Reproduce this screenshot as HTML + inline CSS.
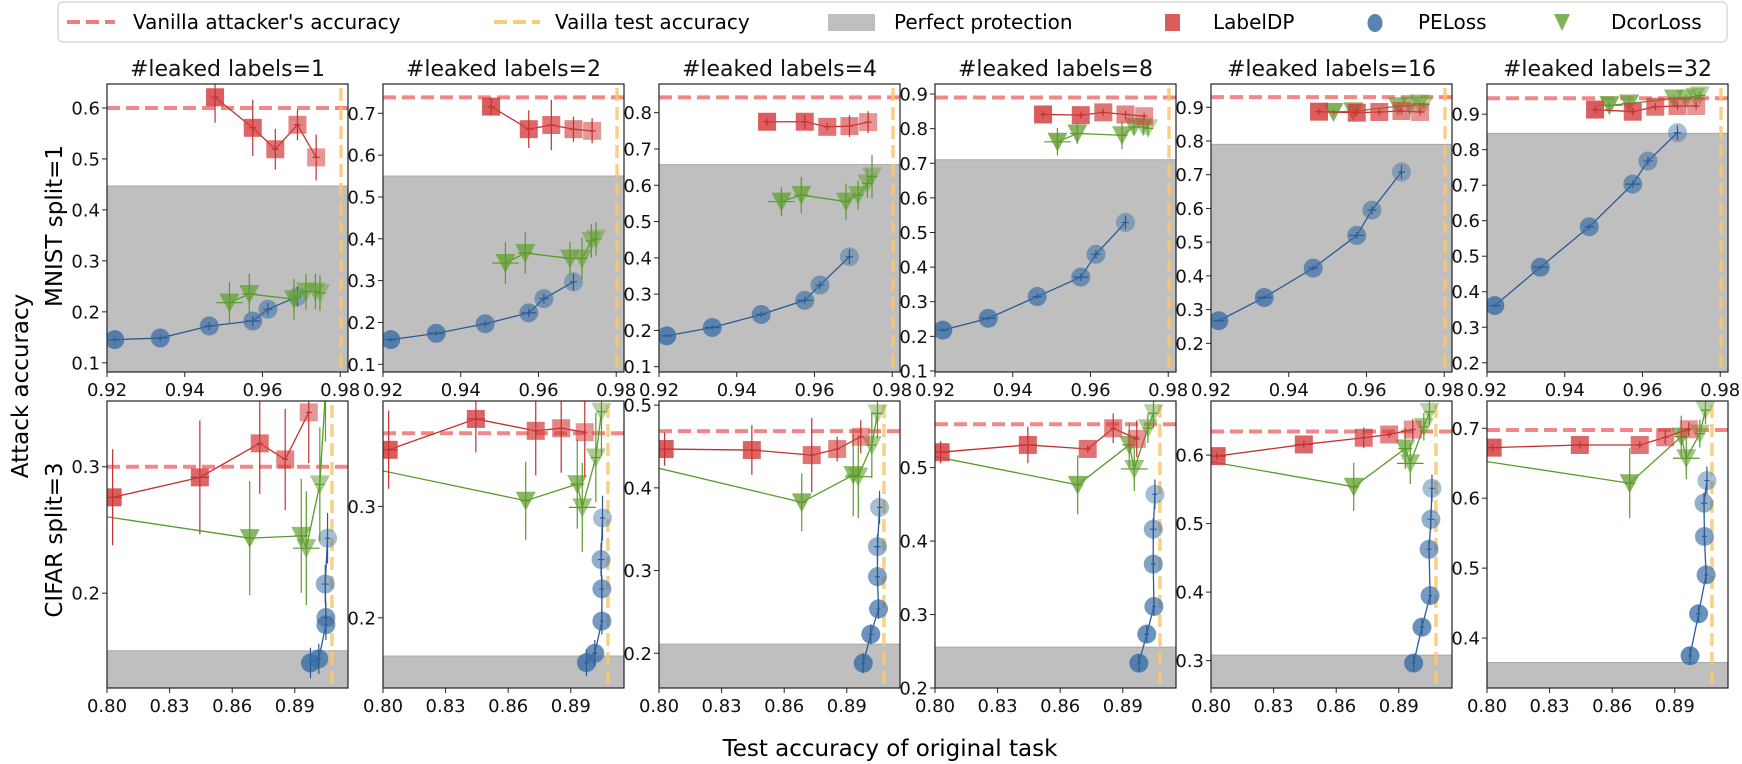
<!DOCTYPE html>
<html><head><meta charset="utf-8">
<style>
html,body{margin:0;padding:0;background:#fff;}
svg{display:block;font-family:"DejaVu Sans","Liberation Sans",sans-serif;}
</style></head>
<body>
<svg id="fig" width="1742" height="764" viewBox="0 0 1742 764" xmlns="http://www.w3.org/2000/svg">
  <g>
    <rect x="58" y="2" width="1669" height="40" rx="5" fill="#fff" stroke="#d0d0d0" stroke-width="1.2"/>
    <line x1="67" y1="22" x2="115" y2="22" stroke="#f07c7c" stroke-width="4" stroke-dasharray="13,6"/>
    <text x="133" y="29" font-size="20">Vanilla attacker's accuracy</text>
    <line x1="494" y1="22" x2="540" y2="22" stroke="#f9cd78" stroke-width="4" stroke-dasharray="13,6"/>
    <text x="555" y="29" font-size="20">Vailla test accuracy</text>
    <rect x="828" y="14" width="47" height="17" fill="#bfbfbf"/>
    <text x="894" y="29" font-size="20">Perfect protection</text>
    <rect x="1165" y="14" width="15" height="17" fill="#d43f3f" opacity="0.85"/>
    <text x="1213" y="29" font-size="20">LabelDP</text>
    <ellipse cx="1375" cy="23" rx="7.5" ry="9" fill="#3a6ea5" opacity="0.85"/>
    <text x="1418" y="29" font-size="20">PELoss</text>
    <polygon points="1554,14 1570,14 1562,31" fill="#6aa43a" opacity="0.85"/>
    <text x="1611" y="29" font-size="20">DcorLoss</text>
  </g>
  <text x="0" y="0" font-size="23" text-anchor="middle" transform="translate(28,386) rotate(-90)">Attack accuracy</text>
  <text x="0" y="0" font-size="23" text-anchor="middle" transform="translate(62,226) rotate(-90)">MNIST split=1</text>
  <text x="0" y="0" font-size="23" text-anchor="middle" transform="translate(62,540) rotate(-90)">CIFAR split=3</text>
  <text x="890" y="756" font-size="23" text-anchor="middle">Test accuracy of original task</text>
  <g id="panels"></g>
</svg>
<script>
// ---- data ----
const leakedLabels = [1, 2, 4, 8, 16, 32];
const topXLim = [0.92, 0.982];
const botXLim = [0.80, 0.9155];
const topXTicks = [0.92, 0.94, 0.96, 0.98];
const botXTicks = [0.80, 0.83, 0.86, 0.89];
const topYLim = [[0.082,0.647],[0.0816,0.770],[0.0854,0.879],[0.097,0.929],[0.115,0.969],[0.174,0.985]];
const botYLim = [[0.125,0.352],[0.137,0.3946],[0.158,0.505],[0.2,0.5907],[0.26,0.679],[0.3286,0.739]];
const topYTicks = [[0.1,0.2,0.3,0.4,0.5,0.6],[0.1,0.2,0.3,0.4,0.5,0.6,0.7],[0.1,0.2,0.3,0.4,0.5,0.6,0.7,0.8],[0.1,0.2,0.3,0.4,0.5,0.6,0.7,0.8,0.9],[0.2,0.3,0.4,0.5,0.6,0.7,0.8,0.9],[0.2,0.3,0.4,0.5,0.6,0.7,0.8,0.9]];
const botYTicks = [[0.2,0.3],[0.2,0.3],[0.2,0.3,0.4,0.5],[0.2,0.3,0.4,0.5],[0.3,0.4,0.5,0.6],[0.4,0.5,0.6,0.7]];
const topVanillaAttack = [0.60, 0.738, 0.842, 0.89, 0.93, 0.945];
const botVanillaAttack = [0.300, 0.3657, 0.4686, 0.559, 0.6345, 0.6976];
const topPerfect = [0.447, 0.55, 0.657, 0.71, 0.79, 0.846];
const botPerfect = [0.1545, 0.1657, 0.211, 0.2557, 0.308, 0.365];
const topVanillaTest = 0.9802;
const botVanillaTest = 0.9078;

const topPeX = [0.922, 0.9337, 0.9463, 0.9575, 0.9614, 0.969];
const topPeY = [[0.1455,0.1486,0.1722,0.182,0.205,0.230],[0.159,0.174,0.197,0.223,0.257,0.297],[0.185,0.208,0.244,0.283,0.325,0.403],[0.218,0.252,0.315,0.371,0.437,0.529],[0.267,0.336,0.423,0.520,0.595,0.708],[0.361,0.469,0.583,0.703,0.768,0.848]];
const topPeXErr = [0.001, 0.0015, 0.0008, 0.0015, 0.0008, 0.0005];
const topPeYErr = [0.005, 0.006, 0.008, 0.01, 0.012, 0.02];

const topDpX = [0.9478, 0.9575, 0.9633, 0.969, 0.9738];
const topDpY = [[0.621,0.561,0.519,0.567,0.503],[0.716,0.662,0.672,0.662,0.658],[0.775,0.775,0.761,0.763,0.774],[0.841,0.839,0.847,0.841,0.836],[0.887,0.884,0.886,0.889,0.886],[0.913,0.907,0.921,0.923,0.923]];
const topDpYErr = [[0.05,0.055,0.04,0.03,0.045],[0.02,0.045,0.06,0.03,0.03],[0.01,0.02,0.01,0.03,0.03],[0.01,0.01,0.01,0.01,0.01],[0.01,0.01,0.01,0.01,0.01],[0.01,0.01,0.01,0.01,0.01]];

const topDcX = [0.9515, 0.9566, 0.9681, 0.9712, 0.9736, 0.9748];
const topDcY = [[0.218,0.235,0.225,0.24,0.24,0.237],[0.342,0.366,0.353,0.353,0.395,0.40],[0.555,0.573,0.555,0.573,0.605,0.624],[0.762,0.786,0.781,0.805,0.805,0.801],[0.886,0.888,0.903,0.905,0.911,0.908],[0.925,0.93,0.944,0.944,0.949,0.953]];
const topDcYErr = [[0.04,0.04,0.04,0.035,0.035,0.035],[0.05,0.05,0.04,0.05,0.04,0.04],[0.04,0.05,0.05,0.04,0.04,0.06],[0.04,0.03,0.04,0.02,0.02,0.02],[0.01,0.01,0.01,0.01,0.01,0.01],[0.01,0.01,0.01,0.01,0.01,0.01]];
const topDcXErr = [0.003, 0.0015, 0.001, 0.001, 0.001, 0.001];

const botPeX = [[0.8975,0.9015,0.9049,0.9049,0.9046,0.9057],[0.8975,0.9015,0.9049,0.9049,0.9045,0.9052],[0.8979,0.9015,0.9052,0.9047,0.9047,0.9057],[0.8977,0.9015,0.9049,0.9046,0.9046,0.9054],[0.8971,0.9011,0.905,0.9045,0.9054,0.9059],[0.8973,0.9014,0.905,0.9042,0.904,0.9054]];
const botPeY = [[0.1448,0.148,0.175,0.1808,0.2072,0.2435],[0.1598,0.1681,0.197,0.226,0.2523,0.2896],[0.188,0.223,0.2536,0.2926,0.3289,0.3764],[0.2339,0.2733,0.3109,0.3686,0.4162,0.4638],[0.2963,0.3488,0.3949,0.4625,0.5063,0.5515],[0.3747,0.4347,0.4904,0.5452,0.5929,0.6252]];
const botPeYErr = [0.012, 0.012, 0.012, 0.012, 0.015, 0.02];
const botPeXErr = [0.0005, 0.0008, 0.0005, 0.0008, 0.0012, 0.0008];

const botDpX = [0.8027, 0.8445, 0.8732, 0.8854, 0.8967];
const botDpY = [[0.2758,0.2916,0.3185,0.3058,0.343],[0.3508,0.3785,0.3678,0.3702,0.3666],[0.4469,0.4457,0.4396,0.4469,0.4617],[0.521,0.5309,0.5254,0.5536,0.5391],[0.5985,0.6156,0.6253,0.6301,0.6374],[0.6723,0.6761,0.6761,0.6871,0.6986]];
const botDpYErr = [[0.038,0.045,0.04,0.04,0.04],[0.035,0.03,0.04,0.04,0.04],[0.02,0.03,0.045,0.015,0.02],[0.015,0.025,0.005,0.02,0.025],[0.005,0.005,0.015,0.005,0.015],[0.005,0.005,0.005,0.01,0.01]];
const botDpXErr = [0.004, 0.004, 0.001, 0.001, 0.001];

const botDcX = [0.78, 0.8684, 0.8931, 0.8955, 0.902, 0.9047];
const botDcY = [[0.2653,0.2435,0.2453,0.2356,0.2861,0.36],[0.3397,0.3051,0.32,0.2991,0.3439,0.385],[0.4356,0.3825,0.4155,0.4135,0.4517,0.49],[0.5264,0.4765,0.5309,0.4982,0.5536,0.574],[0.601,0.5538,0.6097,0.5879,0.6413,0.6631],[0.6614,0.6214,0.688,0.6571,0.6923,0.726]];
const botDcYErr = [[0.03,0.045,0.045,0.045,0.045,0.04],[0.03,0.035,0.04,0.04,0.04,0.04],[0.03,0.035,0.05,0.05,0.04,0.03],[0.02,0.04,0.03,0.03,0.02,0.02],[0.02,0.035,0.03,0.03,0.02,0.02],[0.02,0.05,0.03,0.03,0.02,0.02]];
const botDcXErr = [0, 0.002, 0.003, 0.006, 0.002, 0.002];

// ---- rendering ----
const NS = "http://www.w3.org/2000/svg";
const root = document.getElementById('panels');
const PANEL_W = 241, PITCH = 276, LEFT0 = 107;
const ROWS = [{top: 84, h: 288}, {top: 401, h: 287}];
const RED = "#d43f3f", REDL = "#c42f2f";
const BLUE = "#3a6ea5", BLUEL = "#2a5b95";
const GREEN = "#6aa43a", GREENL = "#5a9a2a";
const alphaPe = [0.8, 0.75, 0.7, 0.64, 0.55, 0.45];
const alphaDp = [0.85, 0.8, 0.72, 0.64, 0.55];
const alphaDc = [0.85, 0.8, 0.74, 0.66, 0.56, 0.48];

function mk(tag, attrs, parent) {
  const e = document.createElementNS(NS, tag);
  for (const k in attrs) e.setAttribute(k, attrs[k]);
  if (parent) parent.appendChild(e);
  return e;
}
function fmt(v, d) { return v.toFixed(d); }

function drawSeries(g, xs, ys, xerr, yerr, sx, sy, color, lcolor, kind, alphas, name) {
  const sg = mk('g', {}, g);
  
  
  let d = '';
  for (let i = 0; i < xs.length; i++) d += (i ? 'L' : 'M') + sx(xs[i]) + ',' + sy(ys[i]);
  const ln = mk('path', {d: d, fill: 'none', stroke: lcolor, 'stroke-width': 1.3}, sg);
  
  
  for (let i = 0; i < xs.length; i++) {
    const cx = sx(xs[i]), cy = sy(ys[i]);
    let m;
    if (kind === 'square') {
      m = mk('rect', {x: cx - 9, y: cy - 9, width: 18, height: 18, fill: color, opacity: alphas[i]}, sg);
    } else if (kind === 'circle') {
      m = mk('circle', {cx: cx, cy: cy, r: 9.5, fill: color, opacity: alphas[i]}, sg);
    } else {
      m = mk('polygon', {points: (cx - 10) + ',' + (cy - 9) + ' ' + (cx + 10) + ',' + (cy - 9) + ' ' + cx + ',' + (cy + 10), fill: color, opacity: alphas[i]}, sg);
    }
    
    
    const ye = Array.isArray(yerr) ? yerr[i] : yerr;
    const xe = Array.isArray(xerr) ? xerr[i] : xerr;
    const eb = mk('path', {d: 'M' + cx + ',' + sy(ys[i] - ye) + 'L' + cx + ',' + sy(ys[i] + ye) +
      'M' + sx(xs[i] - xe - 0.0004) + ',' + cy + 'L' + sx(xs[i] + xe + 0.0004) + ',' + cy,
      stroke: lcolor, 'stroke-width': 1.2, fill: 'none'}, sg);
    
    
  }
}

function drawPanel(r, c) {
  const left = LEFT0 + c * PITCH, top = ROWS[r].top, h = ROWS[r].h, w = PANEL_W;
  const xl = r === 0 ? topXLim : botXLim;
  const yl = r === 0 ? topYLim[c] : botYLim[c];
  const sx = v => left + (v - xl[0]) / (xl[1] - xl[0]) * w;
  const sy = v => top + h - (v - yl[0]) / (yl[1] - yl[0]) * h;
  const g = mk('g', {}, root);
  
  
  const cid = 'clip' + r + '_' + c;
  const cp = mk('clipPath', {id: cid}, g);
  mk('rect', {x: left, y: top, width: w, height: h}, cp);
  const inner = mk('g', {'clip-path': 'url(#' + cid + ')'}, g);

  const pt = r === 0 ? topPerfect[c] : botPerfect[c];
  const gr = mk('rect', {x: left, y: sy(pt), width: w, height: top + h - sy(pt), fill: '#bfbfbf'}, inner);
  
  
  mk('line', {x1: left, x2: left + w, y1: sy(pt), y2: sy(pt), stroke: '#a8a8a8', 'stroke-width': 1}, inner);

  const va = r === 0 ? topVanillaAttack[c] : botVanillaAttack[c];
  const hl = mk('line', {x1: left, x2: left + w, y1: sy(va), y2: sy(va), stroke: '#f07c7c', 'stroke-width': 4, 'stroke-dasharray': '13,6', opacity: 0.9}, inner);
  
  
  const vt = r === 0 ? topVanillaTest : botVanillaTest;
  const vl = mk('line', {x1: sx(vt), x2: sx(vt), y1: top + 4, y2: top + h, stroke: '#f9c870', 'stroke-width': 3.5, 'stroke-dasharray': '13,6', opacity: 0.85}, inner);
  
  

  if (r === 0) {
    drawSeries(inner, topPeX, topPeY[c], topPeXErr, topPeYErr, sx, sy, BLUE, BLUEL, 'circle', alphaPe, 'peloss');
    drawSeries(inner, topDcX, topDcY[c], topDcXErr, topDcYErr[c], sx, sy, GREEN, GREENL, 'tri', alphaDc, 'dcorloss');
    drawSeries(inner, topDpX, topDpY[c], 0.0005, topDpYErr[c], sx, sy, RED, REDL, 'square', alphaDp, 'labeldp');
  } else {
    drawSeries(inner, botPeX[c], botPeY[c], botPeXErr, botPeYErr, sx, sy, BLUE, BLUEL, 'circle', alphaPe, 'peloss');
    drawSeries(inner, botDcX, botDcY[c], botDcXErr, botDcYErr[c], sx, sy, GREEN, GREENL, 'tri', alphaDc, 'dcorloss');
    drawSeries(inner, botDpX, botDpY[c], botDpXErr, botDpYErr[c], sx, sy, RED, REDL, 'square', alphaDp, 'labeldp');
  }

  const fr = mk('rect', {x: left, y: top, width: w, height: h, fill: 'none', stroke: '#222', 'stroke-width': 1.2}, g);
  
  

  const yt = r === 0 ? topYTicks[c] : botYTicks[c];
  yt.forEach(v => {
    const y = sy(v);
    mk('line', {x1: left - 5, x2: left, y1: y, y2: y, stroke: '#222', 'stroke-width': 1}, g);
    const t = mk('text', {x: left - 7, y: y + 6.5, 'font-size': 18, 'text-anchor': 'end', fill: '#111'}, g);
    t.textContent = fmt(v, 1);
    
    
  });
  const xt = r === 0 ? topXTicks : botXTicks;
  xt.forEach(v => {
    const x = sx(v);
    mk('line', {x1: x, x2: x, y1: top + h, y2: top + h + 5, stroke: '#222', 'stroke-width': 1}, g);
    const t = mk('text', {x: x, y: top + h + 24, 'font-size': 18, 'text-anchor': 'middle', fill: '#111'}, g);
    t.textContent = fmt(v, 2);
    
    
  });
  if (r === 0) {
    const tt = mk('text', {x: left + w / 2, y: top - 8, 'font-size': 22, 'text-anchor': 'middle', fill: '#111'}, g);
    tt.textContent = '#leaked labels=' + leakedLabels[c];
    
    
  }
}
for (let r = 0; r < 2; r++) for (let c = 0; c < 6; c++) drawPanel(r, c);
</script>
</body></html>
